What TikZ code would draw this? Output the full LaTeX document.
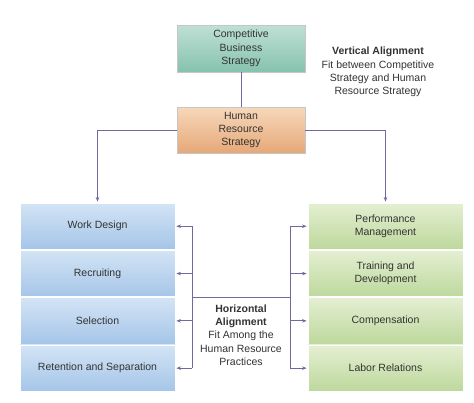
\documentclass[tikz,border=0pt]{standalone}
\usepackage{xcolor}
\usepackage{fontspec}
\setmainfont{Liberation Sans}
\usetikzlibrary{arrows.meta,positioning}

\definecolor{linkcol}{HTML}{6E6A9E}
\definecolor{tealtop}{HTML}{BFE0D5}
\definecolor{tealbot}{HTML}{86C2AE}
\definecolor{orangetop}{HTML}{F7D8BC}
\definecolor{orangebot}{HTML}{E6A877}
\definecolor{bluetop}{HTML}{D3E4F5}
\definecolor{bluebot}{HTML}{A5C5E8}
\definecolor{greentop}{HTML}{E4EFD2}
\definecolor{greenbot}{HTML}{BDD89C}

\tikzset{
    stratbox/.style={draw=gray!45, line width=0.4pt, minimum width=128pt,
        minimum height=46pt, inner sep=0pt, align=center},
    practice/.style={draw=white, line width=0.8pt, minimum width=155pt,
        minimum height=46.5pt, inner sep=0pt, align=center},
    link/.style={draw=linkcol, line width=0.9pt},
    linkarrow/.style={link, -{Stealth[length=4.5pt,width=3.5pt]}, shorten >=1pt}
}

\begin{document}
\begin{tikzpicture}[x=1pt, y=-1pt, font=\fontsize{10.5}{13.3}\selectfont, text=black!80]
    \useasboundingbox[fill=white] (0,0) rectangle (474,402);

    % strategy boxes
    \node[stratbox, top color=tealtop, bottom color=tealbot, minimum height=47pt]
        (cbs) at (241,48.5) {Competitive\\Business\\Strategy};
    \node[stratbox, top color=orangetop, bottom color=orangebot]
        (hrs) at (241,130) {Human\\Resource\\Strategy};

    \node[align=center] (vert) at (378,72)
        {\textbf{Vertical Alignment}\\Fit between Competitive\\Strategy and Human\\Resource Strategy};

    % left practices
    \node[practice, top color=bluetop, bottom color=bluebot] (wd) at (97.5,226.25) {Work Design};
    \node[practice, top color=bluetop, bottom color=bluebot, below=0pt of wd] (rec) {Recruiting};
    \node[practice, top color=bluetop, bottom color=bluebot, below=0pt of rec] (sel) {Selection};
    \node[practice, top color=bluetop, bottom color=bluebot, below=0pt of sel] (ret) {Retention and Separation};

    % right practices
    \node[practice, top color=greentop, bottom color=greenbot] (pm) at (385.5,226.25) {Performance\\Management};
    \node[practice, top color=greentop, bottom color=greenbot, below=0pt of pm] (td) {Training and\\Development};
    \node[practice, top color=greentop, bottom color=greenbot, below=0pt of td] (comp) {Compensation};
    \node[practice, top color=greentop, bottom color=greenbot, below=0pt of comp] (lab) {Labor Relations};

    \node[align=center] (horz) at (241,335)
        {\textbf{Horizontal}\\\textbf{Alignment}\\Fit Among the\\Human Resource\\Practices};

    % vertical links
    \draw[link] (cbs) -- (hrs);
    \draw[linkarrow] (hrs.west) -| (wd.north);
    \draw[linkarrow] (hrs.east) -| (pm.north);

    % horizontal bracket
    \coordinate (lb) at (192,297);
    \coordinate (rb) at (290,297);
    \draw[link] (lb) -- (rb);
    \draw[link] (lb |- wd.east) -- (lb |- ret.east);
    \draw[link] (rb |- pm.west) -- (rb |- lab.west);
    \foreach \n in {wd,rec,sel,ret}
        \draw[linkarrow] (lb |- \n.east) -- (\n.east);
    \foreach \n in {pm,td,comp,lab}
        \draw[linkarrow] (rb |- \n.west) -- (\n.west);
\end{tikzpicture}
\end{document}
